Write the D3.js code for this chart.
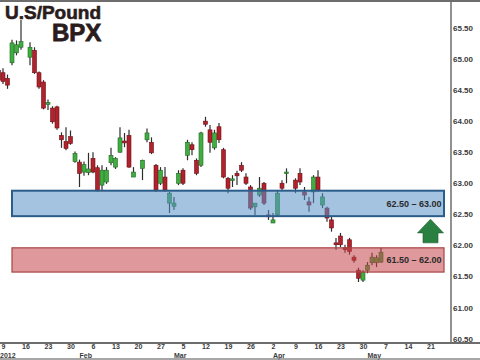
<!DOCTYPE html>
<html>
<head>
<meta charset="utf-8">
<script src="https://cdn.jsdelivr.net/npm/d3@7"></script>
<style>
  body { margin: 0; background: #fff; }
  svg { display: block; font-family: "Liberation Sans", Arial, sans-serif; }
</style>
</head>
<body>
<div id="chart"></div>
<script>
// daily candles, British pound futures (US$ per pound scaled), Jan - May 2012
const dates = [
  "2012-01-06","2012-01-09","2012-01-10","2012-01-11","2012-01-12","2012-01-13",
  "2012-01-17","2012-01-18","2012-01-19","2012-01-20","2012-01-23","2012-01-24",
  "2012-01-25","2012-01-26","2012-01-27","2012-01-30","2012-01-31","2012-02-01",
  "2012-02-02","2012-02-03","2012-02-06","2012-02-07","2012-02-08","2012-02-09",
  "2012-02-10","2012-02-13","2012-02-14","2012-02-15","2012-02-16","2012-02-17",
  "2012-02-21","2012-02-22","2012-02-23","2012-02-24","2012-02-27","2012-02-28",
  "2012-02-29","2012-03-01","2012-03-02","2012-03-05","2012-03-06","2012-03-07",
  "2012-03-08","2012-03-09","2012-03-12","2012-03-13","2012-03-14","2012-03-15",
  "2012-03-16","2012-03-19","2012-03-20","2012-03-21","2012-03-22","2012-03-23",
  "2012-03-26","2012-03-27","2012-03-28","2012-03-29","2012-03-30","2012-04-02",
  "2012-04-03","2012-04-04","2012-04-05","2012-04-09","2012-04-10","2012-04-11",
  "2012-04-12","2012-04-13","2012-04-16","2012-04-17","2012-04-18","2012-04-19",
  "2012-04-20","2012-04-23","2012-04-24","2012-04-25","2012-04-26","2012-04-27",
  "2012-04-30","2012-05-01","2012-05-02","2012-05-03","2012-05-04"
];
const opens = [
  64.82,64.78,64.69,64.94,65.10,65.19, 65.03,65.14,64.78,64.63,64.27,64.21,
  64.23,63.77,63.67,63.75,63.35,63.34, 63.18,63.17,63.40,63.25,62.97,63.02,
  63.33,63.26,63.50,63.68,63.77,63.10, 63.24,63.70,63.66,63.29,63.00,63.10,
  62.68,62.63,63.00,63.21,63.45,63.62, 63.37,63.29,64.00,63.86,63.57,63.91,
  63.54,63.08,63.05,63.16,63.29,63.10, 62.94,62.62,62.81,63.00,62.49,62.36,
  62.49,63.00,63.16,63.05,63.16,62.86, 62.70,62.86,63.10,62.65,62.60,62.41,
  62.04,62.15,61.96,62.09,61.81,61.60, 61.44,61.60,61.72,61.72,61.73
];
const highs = [
  64.89,64.85,64.75,65.31,65.30,65.63, 65.27,65.19,64.80,64.66,64.35,64.24,
  64.25,63.82,63.90,63.85,63.51,63.38, 63.35,63.49,63.50,63.29,63.29,63.26,
  63.57,63.42,63.90,63.81,63.86,63.26, 63.38,63.88,63.74,63.31,63.26,63.26,
  62.86,62.78,63.21,63.24,63.70,63.66, 63.40,63.83,64.07,63.94,63.86,63.97,
  63.57,63.10,63.13,63.20,63.34,63.16, 62.97,62.68,63.10,63.02,62.57,62.52,
  62.89,63.05,63.24,63.08,63.24,62.94, 62.78,63.13,63.21,62.84,62.62,62.46,
  62.12,62.20,62.01,62.12,61.84,61.64, 61.60,61.73,61.88,61.84,61.96
];
const lows = [
  64.63,64.60,64.52,64.90,65.06,65.15, 64.90,64.76,64.52,64.19,64.18,63.96,
  63.86,63.57,63.53,63.62,63.33,62.94, 63.12,63.13,63.16,62.86,62.89,62.99,
  63.29,63.23,63.49,63.58,63.25,63.10, 63.05,63.66,63.47,62.86,62.97,62.86,
  62.52,62.57,62.97,62.97,63.37,63.45, 63.13,63.26,63.91,63.49,63.54,63.65,
  63.08,62.84,62.94,62.97,63.18,62.97, 62.57,62.49,62.78,62.65,62.41,62.36,
  62.46,62.89,63.00,62.84,62.97,62.73, 62.54,62.68,62.86,62.60,62.38,62.22,
  61.93,61.97,61.88,61.85,61.72,61.41, 61.41,61.55,61.68,61.65,61.72
];
const closes = [
  64.66,64.64,64.58,65.26,65.23,65.28, 65.19,64.78,64.55,64.21,64.30,63.99,
  63.89,63.70,63.56,63.64,63.48,63.16, 63.30,63.23,63.18,62.89,63.21,63.21,
  63.45,63.40,63.73,63.65,63.26,63.18, 63.37,63.81,63.49,62.89,63.21,62.89,
  62.84,62.68,63.16,63.00,63.66,63.54, 63.16,63.81,63.95,63.66,63.81,63.70,
  63.10,62.92,63.07,63.12,63.21,63.00, 62.60,62.68,62.92,62.68,62.46,62.41,
  62.84,62.92,63.18,62.92,63.02,62.81, 62.65,63.10,62.89,62.78,62.44,62.28,
  62.01,62.01,61.93,61.90,61.76,61.47, 61.57,61.68,61.81,61.80,61.89
];

const yTicks = [60.5, 61, 61.5, 62, 62.5, 63, 63.5, 64, 64.5, 65, 65.5];
const weekTicks = [
  "2012-01-09","2012-01-16","2012-01-23","2012-01-30","2012-02-06","2012-02-13",
  "2012-02-20","2012-02-27","2012-03-05","2012-03-12","2012-03-19","2012-03-26",
  "2012-04-02","2012-04-09","2012-04-16","2012-04-23","2012-04-30","2012-05-07",
  "2012-05-14","2012-05-21"
];
const monthStarts = ["2012-01-02","2012-02-01","2012-03-01","2012-04-02","2012-05-01"];
const monthLabels = ["2012","Feb","Mar","Apr","May"];

// support / resistance zones
const zoneLow = [62.47, 61.57];
const zoneHigh = [62.88, 61.96];
const zoneLabels = ["62.50 \u2013 63.00", "61.50 \u2013 62.00"];
const zoneFrom = "2012-01-11";
const zoneTo = "2012-05-24";
const arrowDate = "2012-05-21";

const width = 480;
const height = 360;
const axisX = 451;
const axisY = 343;

const parse = d3.timeParse("%Y-%m-%d");
const day0 = parse("2012-01-09");

// weekday count from the first Monday, so weekends are skipped but holidays leave a gap
function weekday(s) {
  const days = Math.round((parse(s) - day0) / 864e5);
  const weeks = Math.floor(days / 7);
  return weeks * 5 + Math.min(days - weeks * 7, 5);
}

const x = d3.scaleLinear().domain([0, 100]).range([3, 453]);
const y = d3.scaleLinear().domain([60.5, 65.5]).range([338.5, 28]);
const xd = s => x(weekday(s));

const candles = dates.map((d, i) => ({
  date: d, open: opens[i], high: highs[i], low: lows[i], close: closes[i]
}));

const svg = d3.select("#chart").append("svg")
    .attr("width", width)
    .attr("height", height);

svg.append("rect")
    .attr("width", width)
    .attr("height", height)
    .attr("fill", "#fff");

svg.append("defs").append("clipPath")
    .attr("id", "plot")
  .append("rect")
    .attr("x", 0).attr("y", 2)
    .attr("width", axisX).attr("height", axisY - 2);

const plot = svg.append("g").attr("clip-path", "url(#plot)");

// candles
const c = plot.append("g")
  .selectAll("g")
  .data(candles)
  .join("g")
    .attr("transform", d => `translate(${xd(d.date)},0)`);

c.append("line")
    .attr("y1", d => y(d.high))
    .attr("y2", d => y(d.low))
    .attr("stroke", "#2e2e2e")
    .attr("stroke-width", 1.2);

c.append("rect")
    .attr("x", -2)
    .attr("width", 4)
    .attr("y", d => y(Math.max(d.open, d.close)))
    .attr("height", d => Math.max(1.5, Math.abs(y(d.open) - y(d.close))))
    .attr("fill", d => d.close >= d.open ? "#3fae3f" : "#b0222c")
    .attr("stroke", d => d.close >= d.open ? "#23652a" : "#6e1218")
    .attr("stroke-width", 0.6);

// zones drawn over the candles
const zoneFill = ["#5a92c8", "#c4454a"];
const zoneStroke = ["#2b5d8a", "#a84444"];
const zoneStrokeW = [2, 1.2];

zoneLow.forEach((lo, i) => {
  const x0 = xd(zoneFrom), x1 = xd(zoneTo);
  const y0 = y(zoneHigh[i]), y1 = y(lo);
  plot.append("rect")
      .attr("x", x0).attr("y", y0)
      .attr("width", x1 - x0).attr("height", y1 - y0)
      .attr("fill", zoneFill[i])
      .attr("fill-opacity", 0.55)
      .attr("stroke", zoneStroke[i])
      .attr("stroke-width", zoneStrokeW[i]);
  plot.append("text")
      .attr("x", x1 - 30)
      .attr("y", (y0 + y1) / 2)
      .attr("dy", "0.35em")
      .attr("text-anchor", "middle")
      .attr("font-size", 9)
      .attr("font-weight", "bold")
      .attr("fill", "#2a2a2a")
      .text(zoneLabels[i]);
});

// green up arrow between the zones
const ax = xd(arrowDate);
const aTop = y(zoneLow[0]) + 3;
const aBot = y(zoneHigh[1]) - 5;
const aMid = aTop + (aBot - aTop) * 0.58;
plot.append("path")
    .attr("d", `M${ax},${aTop} L${ax + 13},${aMid} L${ax + 7.5},${aMid} L${ax + 7.5},${aBot}
                L${ax - 7.5},${aBot} L${ax - 7.5},${aMid} L${ax - 13},${aMid} Z`)
    .attr("fill", "#2a8040")
    .attr("stroke", "#1d5c2c")
    .attr("stroke-width", 0.6);

// right value axis
const yAxis = svg.append("g")
    .attr("transform", `translate(${axisX},0)`)
    .call(d3.axisRight(y).tickValues(yTicks).tickFormat(d3.format(".2f")).tickSize(0).tickPadding(2))
    .call(g => g.select(".domain").remove());
yAxis.selectAll("text")
    .attr("font-size", 8)
    .attr("font-weight", "bold")
    .attr("font-family", "Liberation Sans, Arial, sans-serif")
    .attr("fill", "#3a3a3a");

// bottom date axis
const xAxis = svg.append("g")
    .attr("transform", `translate(0,${axisY})`)
    .call(d3.axisBottom(x)
        .tickValues(weekTicks.map(weekday))
        .tickFormat((d, i) => parse(weekTicks[i]).getDate())
        .tickSize(0).tickPadding(1))
    .call(g => g.select(".domain").remove());
xAxis.selectAll("text")
    .attr("font-size", 7)
    .attr("font-weight", "bold")
    .attr("font-family", "Liberation Sans, Arial, sans-serif")
    .attr("fill", "#3a3a3a");

svg.append("g")
  .selectAll("text")
  .data(monthLabels)
  .join("text")
    .attr("x", (d, i) => Math.max(0, xd(monthStarts[i])))
    .attr("y", 357.5)
    .attr("font-size", 7)
    .attr("font-weight", "bold")
    .attr("fill", "#3a3a3a")
    .text(d => d);

// frame lines
svg.append("line")
    .attr("x1", 0).attr("x2", width)
    .attr("y1", 1).attr("y2", 1)
    .attr("stroke", "#6d6d6d").attr("stroke-width", 2);
svg.append("line")
    .attr("x1", axisX).attr("x2", axisX)
    .attr("y1", 1).attr("y2", axisY)
    .attr("stroke", "#6d6d6d").attr("stroke-width", 1.5);
svg.append("line")
    .attr("x1", 0).attr("x2", width)
    .attr("y1", axisY).attr("y2", axisY)
    .attr("stroke", "#6d6d6d").attr("stroke-width", 2);
svg.append("line")
    .attr("x1", 0).attr("x2", width)
    .attr("y1", 359).attr("y2", 359)
    .attr("stroke", "#8a8a8a").attr("stroke-width", 1.5);

// title
svg.append("text")
    .attr("x", 5).attr("y", 19)
    .attr("font-size", 19)
    .attr("font-weight", "bold")
    .attr("fill", "#2a1c1c")
    .attr("stroke", "#2a1c1c")
    .attr("stroke-width", 0.6)
    .text("U.S/Pound");
svg.append("text")
    .attr("x", 52).attr("y", 41)
    .attr("font-size", 24)
    .attr("font-weight", "bold")
    .attr("fill", "#2a1c1c")
    .attr("stroke", "#2a1c1c")
    .attr("stroke-width", 0.8)
    .text("BPX");
</script>
</body>
</html>
